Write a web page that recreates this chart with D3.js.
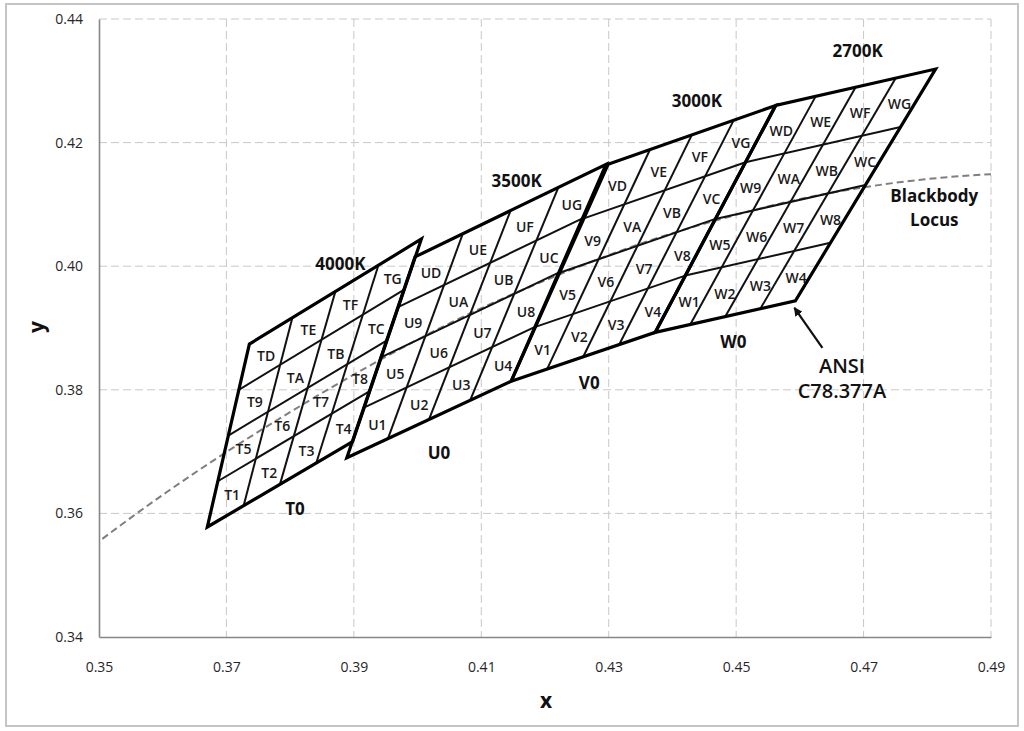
<!DOCTYPE html>
<html><head><meta charset="utf-8">
<script src="https://cdn.jsdelivr.net/npm/d3@7"></script>
<style>
html,body{margin:0;padding:0;background:#fff;}
svg{display:block;font-family:"Open Sans",sans-serif;}
</style></head><body>
<svg id="chart" width="1024" height="731"></svg>
<script>
// ---------------- data ----------------
const xTicks = [0.35, 0.37, 0.39, 0.41, 0.43, 0.45, 0.47, 0.49];
const yTicks = [0.34, 0.36, 0.38, 0.40, 0.42, 0.44];
const binGroups = ["T", "U", "V", "W"];
const cctNames = ["4000K", "3500K", "3000K", "2700K"];
const cellCodes = [["1","2","3","4"],["5","6","7","8"],["9","A","B","C"],["D","E","F","G"]];

// edge points of each quadrangle (CIE x, y)
const T_bottom = [[0.3670,0.3578],[0.3727,0.36125],[0.3784,0.3647],[0.3841,0.36815],[0.3898,0.3716]];
const T_top    = [[0.3736,0.3874],[0.38035,0.39165],[0.3871,0.3959],[0.39385,0.40015],[0.4006,0.4044]];
const T_left   = [[0.3670,0.3578],[0.36865,0.3652],[0.3703,0.3726],[0.37195,0.3800],[0.3736,0.3874]];
const T_right  = [[0.3898,0.3716],[0.3925,0.3798],[0.3952,0.3880],[0.3979,0.3962],[0.4006,0.4044]];

const U_bottom = [[0.3889,0.3690],[0.39535,0.3721],[0.4018,0.3752],[0.40825,0.3783],[0.4147,0.3814]];
const U_top    = [[0.3996,0.4015],[0.4071,0.40525],[0.4146,0.4090],[0.4221,0.41275],[0.4296,0.4165]];
const U_left   = [[0.3889,0.3690],[0.39158,0.37713],[0.39425,0.38525],[0.39693,0.39338],[0.3996,0.4015]];
const U_right  = [[0.4147,0.3814],[0.41843,0.39018],[0.42215,0.39895],[0.42588,0.40773],[0.4296,0.4165]];

const V_bottom = [[0.4147,0.3814],[0.42035,0.38338],[0.4260,0.38535],[0.43165,0.38733],[0.4373,0.3893]];
const V_top    = [[0.4299,0.4165],[0.43648,0.41888],[0.44305,0.42125],[0.44963,0.42363],[0.4562,0.4260]];
const V_left   = [[0.4147,0.3814],[0.4185,0.39018],[0.4223,0.39895],[0.4261,0.40773],[0.4299,0.4165]];
const V_right  = [[0.4373,0.3893],[0.44203,0.39848],[0.44675,0.40765],[0.45148,0.41683],[0.4562,0.4260]];

const W_bottom = [[0.4373,0.3893],[0.4428,0.39058],[0.4483,0.39185],[0.4538,0.39313],[0.4593,0.3944]];
const W_top    = [[0.4562,0.4260],[0.46248,0.42748],[0.46875,0.42895],[0.47503,0.43043],[0.4813,0.4319]];
const W_left   = [[0.4373,0.3893],[0.44203,0.39848],[0.44675,0.40765],[0.45148,0.41683],[0.4562,0.4260]];
const W_right  = [[0.4593,0.3944],[0.4648,0.40378],[0.4703,0.41315],[0.4758,0.42253],[0.4813,0.4319]];

// blackbody (Planckian) locus
const locusX = [0.3450, 0.3607, 0.3805, 0.3923, 0.4053, 0.4200, 0.4366, 0.4475, 0.4593, 0.4765, 0.4953];
const locusY = [0.3516, 0.3635, 0.3767, 0.3838, 0.3909, 0.3977, 0.4042, 0.4076, 0.4107, 0.4137, 0.4152];

// annotation anchors (data units)
const locusLabelPos = [0.4811, 0.4114];
const ansiLabelPos = [0.4666, 0.3837];

// ---------------- layout / style ----------------
const edges = {
  T: [T_bottom, T_top, T_left, T_right],
  U: [U_bottom, U_top, U_left, U_right],
  V: [V_bottom, V_top, V_left, V_right],
  W: [W_bottom, W_top, W_left, W_right]
};
const bottomLabelOffset = [[15, 25], [10, 34], [6, 26], [8, 25]];
const topLabelOffset = [[5, -27], [6, -30], [5, -34], [2, -36]];

const svg = d3.select("#chart");
const L = 99, R = 991, TOP = 19, B = 637;
const x = d3.scaleLinear().domain([0.35, 0.49]).range([L, R]);
const y = d3.scaleLinear().domain([0.34, 0.44]).range([B, TOP]);
const P = p => [x(p[0]), y(p[1])];

// outer frame
svg.append("rect").attr("x", 6).attr("y", 4).attr("width", 1012).attr("height", 722)
  .attr("fill", "#fff").attr("stroke", "#c4c4c4").attr("stroke-width", 2);

// grid
const grid = svg.append("g");
grid.selectAll("line.h").data(yTicks.filter(d => d > 0.34)).join("line")
  .attr("x1", L).attr("x2", R).attr("y1", d => y(d)).attr("y2", d => y(d))
  .attr("stroke", "#c8c8c8").attr("stroke-width", 1).attr("stroke-dasharray", "8,4");
grid.selectAll("line.v").data(xTicks.filter(d => d > 0.35)).join("line")
  .attr("x1", d => x(d)).attr("x2", d => x(d)).attr("y1", TOP).attr("y2", B)
  .attr("stroke", "#c8c8c8").attr("stroke-width", 1).attr("stroke-dasharray", "8,4");

// axes
const fmt = d3.format(".2f");
const xAxis = svg.append("g").attr("transform", `translate(0,${B})`)
  .call(d3.axisBottom(x).tickValues(xTicks).tickFormat(fmt).tickSize(0).tickPadding(25));
const yAxis = svg.append("g").attr("transform", `translate(${L},0)`)
  .call(d3.axisLeft(y).tickValues(yTicks).tickFormat(fmt).tickSize(0).tickPadding(16));
[xAxis, yAxis].forEach(a => {
  a.select(".domain").attr("stroke", "#868686").attr("stroke-width", 1.6);
  a.selectAll("text").attr("font-size", 14).attr("fill", "#262626")
    .attr("font-family", "'Open Sans', sans-serif");
});

svg.append("text").attr("x", 546).attr("y", 708).attr("text-anchor", "middle")
  .attr("font-size", 21).attr("font-weight", "bold").attr("fill", "#111").text("x");
svg.append("text").attr("transform", "translate(44,327) rotate(-90)").attr("text-anchor", "middle")
  .attr("font-size", 21).attr("font-weight", "bold").attr("fill", "#111").text("y");

// clip for the locus
svg.append("clipPath").attr("id", "plotclip").append("rect")
  .attr("x", L).attr("y", TOP).attr("width", R - L).attr("height", B - TOP);

const locusPts = locusX.map((v, i) => [x(v), y(locusY[i])]);
svg.append("path").attr("clip-path", "url(#plotclip)")
  .attr("d", d3.line().curve(d3.curveMonotoneX)(locusPts))
  .attr("fill", "none").attr("stroke", "#7f7f7f").attr("stroke-width", 2)
  .attr("stroke-dasharray", "7,4");

// intersection of two lines in pixel space
function intersect(a, b, c, d) {
  const den = (a[0]-b[0])*(c[1]-d[1]) - (a[1]-b[1])*(c[0]-d[0]);
  const t = ((a[0]-c[0])*(c[1]-d[1]) - (a[1]-c[1])*(c[0]-d[0])) / den;
  return [a[0] + t*(b[0]-a[0]), a[1] + t*(b[1]-a[1])];
}

const bins = svg.append("g");
binGroups.forEach((g, gi) => {
  const [bot, top, lef, rig] = edges[g].map(arr => arr.map(P));
  const V = [];
  for (let j = 0; j < 5; j++) {
    V[j] = [];
    for (let i = 0; i < 5; i++) {
      if (j === 0) V[j][i] = bot[i];
      else if (j === 4) V[j][i] = top[i];
      else if (i === 0) V[j][i] = lef[j];
      else if (i === 4) V[j][i] = rig[j];
      else V[j][i] = intersect(bot[i], top[i], lef[j], rig[j]);
    }
  }
  const line = d3.line();
  // thin inner lines
  for (let i = 1; i < 4; i++)
    bins.append("path").attr("d", line([bot[i], top[i]]))
      .attr("stroke", "#111").attr("stroke-width", 2).attr("fill", "none");
  for (let j = 1; j < 4; j++)
    bins.append("path").attr("d", line([lef[j], rig[j]]))
      .attr("stroke", "#111").attr("stroke-width", 2).attr("fill", "none");
  // thick outline
  const outline = [bot[0], bot[4], top[4], top[0]];
  bins.append("path").attr("d", line(outline) + "Z")
    .attr("stroke", "#000").attr("stroke-width", 3.2).attr("fill", "none")
    .attr("stroke-linejoin", "miter");
  // cell labels
  for (let j = 0; j < 4; j++) for (let i = 0; i < 4; i++) {
    const c = [V[j][i], V[j][i+1], V[j+1][i], V[j+1][i+1]];
    const cx = d3.mean(c, p => p[0]), cy = d3.mean(c, p => p[1]);
    bins.append("text").attr("x", cx + 1).attr("y", cy + 2).attr("dy", "0.35em")
      .attr("text-anchor", "middle").attr("font-size", 14).attr("font-weight", 600)
      .attr("fill", "#1a1a1a")
      .text(g + cellCodes[j][i]);
  }
  // group labels
  bins.append("text").attr("x", bot[2][0] + bottomLabelOffset[gi][0])
    .attr("y", bot[2][1] + bottomLabelOffset[gi][1]).attr("dy", "0.35em")
    .attr("text-anchor", "middle").attr("font-size", 17).attr("font-weight", "bold")
    .attr("fill", "#111").text(g + "0");
  bins.append("text").attr("x", top[2][0] + topLabelOffset[gi][0])
    .attr("y", top[2][1] + topLabelOffset[gi][1]).attr("dy", "0.35em")
    .attr("text-anchor", "middle").attr("font-size", 17).attr("font-weight", "bold")
    .attr("fill", "#111").text(cctNames[gi]);
});

// Blackbody label
const bl = svg.append("text").attr("text-anchor", "middle").attr("font-size", 17)
  .attr("font-weight", "bold").attr("fill", "#111");
bl.append("tspan").attr("x", x(locusLabelPos[0])).attr("y", y(locusLabelPos[1])).attr("dy", "0.35em").text("Blackbody");
bl.append("tspan").attr("x", x(locusLabelPos[0])).attr("y", y(locusLabelPos[1]) + 24).attr("dy", "0.35em").text("Locus");

// ANSI label + arrow
const al = svg.append("text").attr("text-anchor", "middle").attr("font-size", 20)
  .attr("fill", "#111").attr("font-weight", 600);
al.append("tspan").attr("x", x(ansiLabelPos[0])).attr("y", y(ansiLabelPos[1]) - 1).attr("dy", "0.35em").text("ANSI");
al.append("tspan").attr("x", x(ansiLabelPos[0])).attr("y", y(ansiLabelPos[1]) + 24).attr("dy", "0.35em").text("C78.377A");

svg.append("defs").append("marker").attr("id", "arr").attr("viewBox", "0 0 10 10")
  .attr("refX", 9).attr("refY", 5).attr("markerWidth", 4).attr("markerHeight", 4)
  .attr("orient", "auto").append("path").attr("d", "M0,0L10,5L0,10Z").attr("fill", "#111");
const corner = P(W_bottom[4]);
svg.append("line").attr("x1", corner[0] + 27).attr("y1", corner[1] + 47)
  .attr("x2", corner[0] - 1).attr("y2", corner[1] + 7)
  .attr("stroke", "#111").attr("stroke-width", 2.2).attr("marker-end", "url(#arr)");
</script>
</body></html>
